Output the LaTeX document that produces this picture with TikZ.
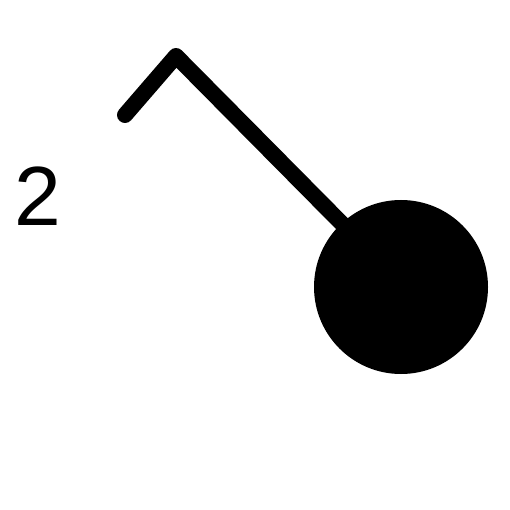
\documentclass[tikz,border=0pt]{standalone}
\usepackage{fontspec}
\setmainfont{Liberation Sans}
\begin{document}
\begin{tikzpicture}[x=1pt,y=-1pt,
  stem/.style={line width=16pt,line cap=round,line join=round},
  ball/.style={circle,fill=black,minimum size=174pt,inner sep=0pt},
  lbl/.style={font=\fontsize{84}{84}\selectfont,inner sep=0pt}]
\useasboundingbox (0,0) rectangle (510,510);
\node[ball] (b) at (401,287) {};
\coordinate (s) at (125,115);
\coordinate (a) at (176,56);
\coordinate (e) at (372,254);
\draw[stem] (s) -- (a) -- (e);
\node[lbl] (t) at (38,196) {2};
\end{tikzpicture}
\end{document}
